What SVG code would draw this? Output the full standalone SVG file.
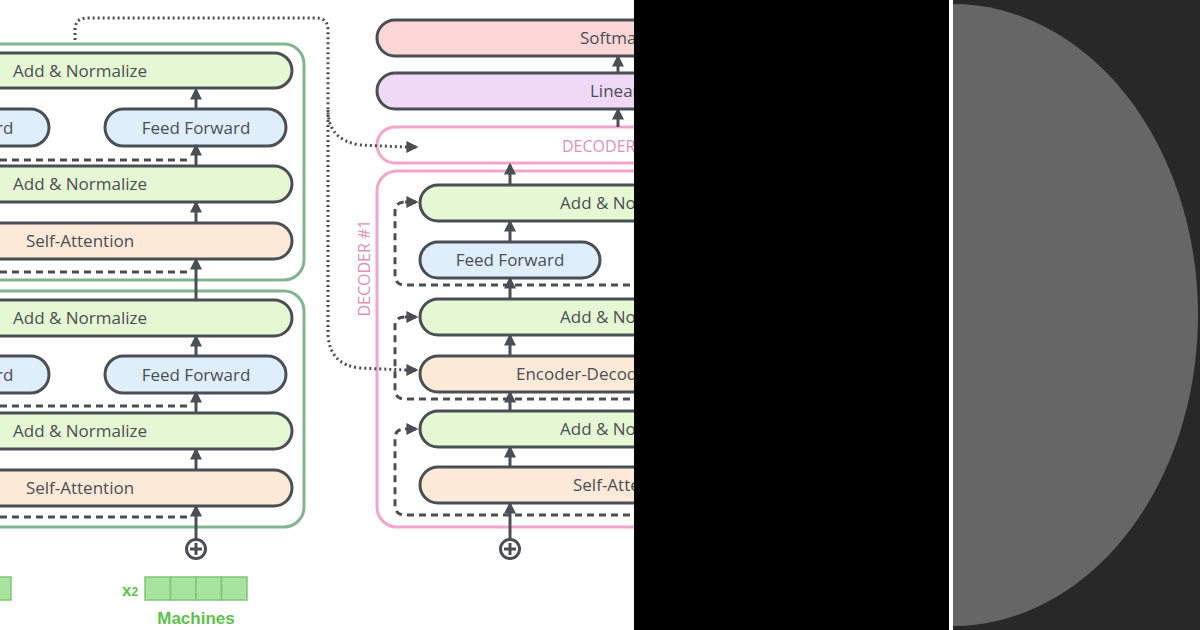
<svg xmlns="http://www.w3.org/2000/svg" width="1200" height="630" viewBox="0 0 1200 630">
<style>
.b{stroke:#4a4f55;stroke-width:3}
.g{fill:#e6f7d4}.o{fill:#fde9d8}.bl{fill:#dfeefb}
.t{font-family:"Open Sans",sans-serif;font-size:17px;fill:#4a4f55;text-anchor:middle}
.ar{stroke:#4a4f55;stroke-width:3;fill:none;marker-end:url(#ah)}
.ds{stroke:#4a4f55;stroke-width:3;fill:none;stroke-dasharray:7 5}
.dt{stroke:#4a4f55;stroke-width:3;fill:none;stroke-dasharray:2 3}
</style>
<defs>
<marker id="ah" viewBox="0 0 10 10" refX="8" refY="5" markerWidth="4" markerHeight="4" orient="auto"><path d="M0,0L10,5L0,10z" fill="#4a4f55"/></marker>
<clipPath id="rp"><rect x="953" y="0" width="247" height="630"/></clipPath>
</defs>
<rect width="1200" height="630" fill="#fff"/>
<g id="encoder1">
<rect x="-40" y="44" width="344" height="236" rx="20" fill="none" stroke="#82b58f" stroke-width="3"/>
<rect class="b g" x="-140" y="53" width="432" height="35" rx="17.5"/><text class="t" x="80" y="77">Add &amp; Normalize</text>
<rect class="b bl" x="-140" y="109" width="189" height="37" rx="18.5"/><text class="t" x="-41" y="134">Feed Forward</text>
<rect class="b bl" x="105" y="109" width="181" height="37" rx="18.5"/><text class="t" x="196" y="134">Feed Forward</text>
<rect class="b g" x="-140" y="166" width="432" height="36" rx="18"/><text class="t" x="80" y="190">Add &amp; Normalize</text>
<rect class="b o" x="-140" y="223" width="432" height="36" rx="18"/><text class="t" x="80" y="247">Self-Attention</text>
</g>
<g id="encoder2">
<rect x="-40" y="291" width="344" height="236" rx="20" fill="none" stroke="#82b58f" stroke-width="3"/>
<rect class="b g" x="-140" y="300" width="432" height="36" rx="18"/><text class="t" x="80" y="324">Add &amp; Normalize</text>
<rect class="b bl" x="-140" y="356" width="189" height="37" rx="18.5"/><text class="t" x="-41" y="381">Feed Forward</text>
<rect class="b bl" x="105" y="356" width="181" height="37" rx="18.5"/><text class="t" x="196" y="381">Feed Forward</text>
<rect class="b g" x="-140" y="413" width="432" height="36" rx="18"/><text class="t" x="80" y="437">Add &amp; Normalize</text>
<rect class="b o" x="-140" y="470" width="432" height="36" rx="18"/><text class="t" x="80" y="494">Self-Attention</text>
</g>
<g id="input">
<circle cx="196" cy="549" r="9.5" fill="none" stroke="#4a4f55" stroke-width="3"/>
<path d="M190,549h12M196,543v12" stroke="#4a4f55" stroke-width="3"/>
<circle cx="510" cy="549" r="9.5" fill="none" stroke="#4a4f55" stroke-width="3"/>
<path d="M504,549h12M510,543v12" stroke="#4a4f55" stroke-width="3"/>
<g fill="#a8e3a0" stroke="#7cc774" stroke-width="1.5">
<rect x="-20" y="577" width="31" height="23"/>
<rect x="145" y="577" width="25.5" height="23"/><rect x="170.5" y="577" width="25.5" height="23"/><rect x="196" y="577" width="25.5" height="23"/><rect x="221.5" y="577" width="25.5" height="23"/>
</g>
<text x="122" y="596" font-family="Liberation Sans,sans-serif" font-size="17" font-weight="bold" fill="#5cc24a">x<tspan font-size="12">2</tspan></text>
<text x="196" y="624" font-family="Liberation Sans,sans-serif" font-size="17" font-weight="bold" fill="#5cc24a" text-anchor="middle">Machines</text>
</g>
<g id="decoder">
<rect x="377" y="20" width="300" height="36" rx="18" class="b" fill="#fdd6d8"/><text class="t" x="580" y="44" style="text-anchor:start">Softmax</text>
<rect x="377" y="73" width="300" height="36" rx="18" class="b" fill="#f0d9f6"/><text class="t" x="590" y="97" style="text-anchor:start">Linear</text>
<rect x="377" y="127" width="300" height="36" rx="18" fill="none" stroke="#f2a6cb" stroke-width="3"/>
<text x="562" y="152" font-family="Open Sans,sans-serif" font-size="16" fill="#e08fbc">DECODER #2</text>
<rect x="377" y="171" width="300" height="356" rx="20" fill="none" stroke="#f2a6cb" stroke-width="3"/>
<text transform="translate(370,268) rotate(-90)" font-family="Open Sans,sans-serif" font-size="16" fill="#e08fbc" text-anchor="middle">DECODER #1</text>
<rect class="b g" x="420" y="185" width="400" height="36" rx="18"/><text class="t" x="560" y="209" style="text-anchor:start">Add &amp; Normalize</text>
<rect class="b bl" x="420" y="242" width="180" height="36" rx="18"/><text class="t" x="510" y="266">Feed Forward</text>
<rect class="b g" x="420" y="299" width="400" height="36" rx="18"/><text class="t" x="560" y="323" style="text-anchor:start">Add &amp; Normalize</text>
<rect class="b o" x="420" y="356" width="400" height="36" rx="18"/><text class="t" x="516" y="380" style="text-anchor:start">Encoder-Decoder Attention</text>
<rect class="b g" x="420" y="411" width="400" height="36" rx="18"/><text class="t" x="560" y="435" style="text-anchor:start">Add &amp; Normalize</text>
<rect class="b o" x="420" y="467" width="400" height="36" rx="18"/><text class="t" x="573" y="491" style="text-anchor:start">Self-Attention</text>
</g>
<g id="connectors">
<path class="ar" d="M196,109V90"/><path class="ar" d="M196,166V146"/><path class="ar" d="M196,223V203"/><path class="ar" d="M196,300V260"/>
<path class="ar" d="M196,356V337"/><path class="ar" d="M196,413V393"/><path class="ar" d="M196,470V450"/><path class="ar" d="M196,539V507"/>
<path class="ds" d="M0,160H190"/><path class="ds" d="M0,272H190"/><path class="ds" d="M0,406H190"/><path class="ds" d="M0,517H190"/>
<path class="ar" d="M618,73V57"/><path class="ar" d="M618,127V110"/>
<path class="ar" d="M510,185V165"/><path class="ar" d="M510,242V222"/><path class="ar" d="M510,299V279"/><path class="ar" d="M510,356V336"/><path class="ar" d="M510,411V393"/><path class="ar" d="M510,467V448"/><path class="ar" d="M510,539V504"/>
<path class="ds" d="M630,285H405Q395,285 395,275V212Q395,202 405,202"/><path class="ar" d="M405,202H416"/>
<path class="ds" d="M630,399H405Q395,399 395,389V326Q395,317 405,317"/><path class="ar" d="M405,317H416"/>
<path class="ds" d="M630,515H405Q395,515 395,505V438Q395,429 405,429"/><path class="ar" d="M405,429H416"/>
<path class="dt" d="M75,40V30Q75,18 87,18H316Q328,18 328,30V110Q328,140 360,145L405,147"/><path class="ar" d="M405,147H416"/>
<path class="dt" d="M328,110V335Q330,365 360,368L405,370"/><path class="ar" d="M405,370H416"/>
</g>
<rect x="634" y="0" width="315" height="630" fill="#000"/>
<rect x="953" y="0" width="247" height="630" fill="#282828"/>
<ellipse cx="953" cy="315" rx="245" ry="311" fill="#666" clip-path="url(#rp)"/>
</svg>
